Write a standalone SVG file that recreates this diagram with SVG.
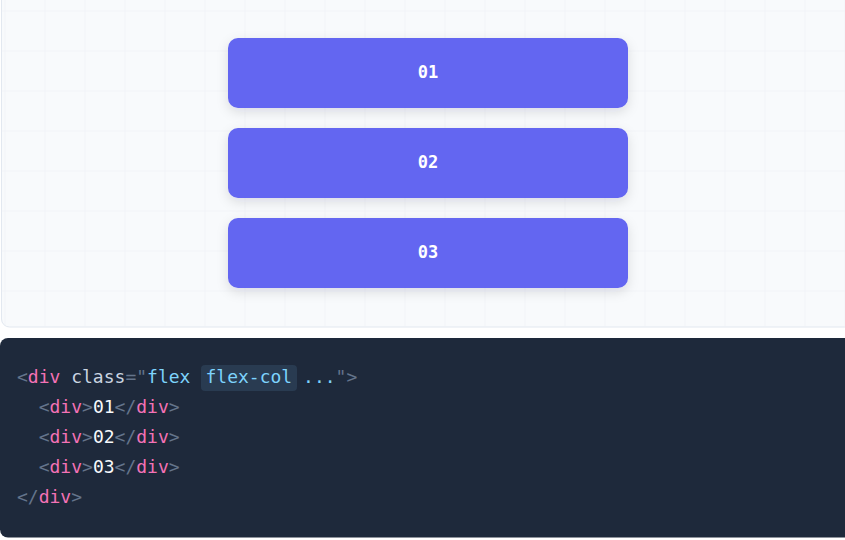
<svg xmlns="http://www.w3.org/2000/svg" width="845" height="540" viewBox="0 0 845 540">
  <defs>
    <pattern id="grid" x="4.5" y="10.5" width="40" height="40" patternUnits="userSpaceOnUse">
      <path d="M0 0V40M0 0H40" fill="none" stroke="#edf0f5" stroke-width="1"/>
    </pattern>
    <filter id="shadow" x="-10%" y="-30%" width="120%" height="170%">
      <feDropShadow dx="0" dy="4" stdDeviation="6" flood-color="#0f172a" flood-opacity="0.12"/>
    </filter>
    <clipPath id="topclip">
      <rect x="1.5" y="-20" width="900" height="347" rx="8"/>
    </clipPath>
  </defs>
  <style>
    .box { fill: #6366f1; filter: url(#shadow); }
    .boxlabel { font-family: "DejaVu Sans Mono", "Liberation Mono", monospace; font-size: 17px; font-weight: bold; fill: #ffffff; text-anchor: middle; }
    .code { font-family: "DejaVu Sans Mono", "Liberation Mono", monospace; font-size: 18px; white-space: pre; }
    .p { fill: #64748b; }
    .t { fill: #f472b6; }
    .a { fill: #cbd5e1; }
    .s { fill: #7dd3fc; }
    .w { fill: #f8fafc; }
  </style>
  <rect width="845" height="540" fill="#ffffff"/>
  <g id="preview">
    <rect x="1.5" y="-20" width="900" height="347" rx="8" fill="#f8fafc" stroke="#e2e8f0" stroke-width="1"/>
    <rect x="1.5" y="-20" width="900" height="347" fill="url(#grid)" clip-path="url(#topclip)"/>
  </g>
  <g id="item-01">
    <rect class="box" x="228" y="38" width="400" height="70" rx="10"/>
    <text class="boxlabel" x="428" y="78">01</text>
  </g>
  <g id="item-02">
    <rect class="box" x="228" y="128" width="400" height="70" rx="10"/>
    <text class="boxlabel" x="428" y="168">02</text>
  </g>
  <g id="item-03">
    <rect class="box" x="228" y="218" width="400" height="70" rx="10"/>
    <text class="boxlabel" x="428" y="258">03</text>
  </g>
  <g id="code">
    <rect x="0" y="338" width="900" height="199.5" rx="8" fill="#1e293b"/>
    <rect x="201" y="365" width="96" height="26" rx="4" fill="#293b51"/>
    <text class="code" x="17" y="383"><tspan class="p">&lt;</tspan><tspan class="t">div</tspan><tspan class="a"> class</tspan><tspan class="p">="</tspan><tspan class="s">flex </tspan></text>
    <text class="code" x="205.5" y="383"><tspan class="s">flex-col</tspan><tspan class="s"> ...</tspan><tspan class="p">"&gt;</tspan></text>
    <text class="code" x="17" y="413"><tspan class="p">  &lt;</tspan><tspan class="t">div</tspan><tspan class="p">&gt;</tspan><tspan class="w">01</tspan><tspan class="p">&lt;/</tspan><tspan class="t">div</tspan><tspan class="p">&gt;</tspan></text>
    <text class="code" x="17" y="443"><tspan class="p">  &lt;</tspan><tspan class="t">div</tspan><tspan class="p">&gt;</tspan><tspan class="w">02</tspan><tspan class="p">&lt;/</tspan><tspan class="t">div</tspan><tspan class="p">&gt;</tspan></text>
    <text class="code" x="17" y="473"><tspan class="p">  &lt;</tspan><tspan class="t">div</tspan><tspan class="p">&gt;</tspan><tspan class="w">03</tspan><tspan class="p">&lt;/</tspan><tspan class="t">div</tspan><tspan class="p">&gt;</tspan></text>
    <text class="code" x="17" y="503"><tspan class="p">&lt;/</tspan><tspan class="t">div</tspan><tspan class="p">&gt;</tspan></text>
  </g>
</svg>
